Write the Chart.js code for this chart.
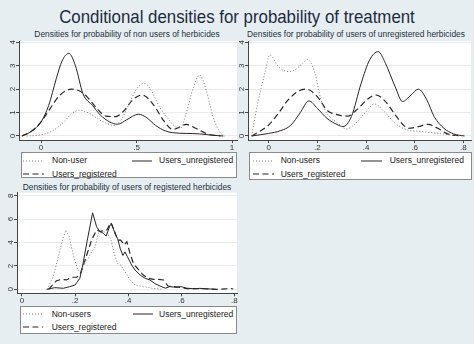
<!DOCTYPE html>
<html>
<head>
<meta charset="utf-8">
<script src="https://cdn.jsdelivr.net/npm/chart.js@4/dist/chart.umd.min.js"></script>
<style>
  html, body { margin: 0; padding: 0; }
  body {
    width: 474px; height: 344px; position: relative; overflow: hidden;
    background: #e7eef1; font-family: "Liberation Sans", Arial, sans-serif; color: #222;
  }
  canvas { position: absolute; }
  .title {
    position: absolute; left: 0; width: 474px; top: 7px; text-align: center;
    font-size: 18.5px; line-height: 20px; color: #1c2b3f; white-space: nowrap;
    transform: scaleX(0.91);
  }
  .sub {
    position: absolute; font-size: 8.4px; line-height: 10px; color: #26313d;
    white-space: nowrap; text-align: center; width: 240px;
  }
  .legend { position: absolute; background: #fff; border: 1px solid #8a8a8a; box-sizing: border-box; }
  .lg-txt { position: absolute; font-size: 8.5px; line-height: 10px; white-space: nowrap; color: #222; }
  svg.lg { position: absolute; overflow: visible; }
</style>
</head>
<body>
<div class="title">Conditional densities for probability of treatment</div>
<div class="sub" style="left:7px; top:29.4px;">Densities for probability of non users of herbicides</div>
<div class="sub" style="left:236px; top:29.4px;">Densities for probability of users of unregistered herbicides</div>
<div class="sub" style="left:7px; top:182.1px;">Densities for probability of users of registered herbicides</div>

<canvas id="c1" width="240" height="112" style="left:0px; top:40px;"></canvas>
<canvas id="c2" width="245" height="112" style="left:229px; top:40px;"></canvas>
<canvas id="c3" width="240" height="114" style="left:0px; top:191px;"></canvas>

<div id="legends"></div>

<script>
// panel 1: non users of herbicides
const p1NonX = [-0.075, 0.0, 0.06, 0.12, 0.16, 0.2, 0.25, 0.3, 0.34, 0.38, 0.42, 0.46, 0.5, 0.54, 0.58, 0.62, 0.66, 0.7, 0.73, 0.76, 0.795, 0.83, 0.865, 0.9, 0.935, 0.96];
const p1NonY = [0, 0.05, 0.22, 0.6, 0.95, 1.1, 0.98, 0.72, 0.55, 0.45, 0.7, 1.35, 2.0, 2.25, 1.9, 1.25, 0.8, 0.42, 0.33, 0.97, 2.0, 2.6, 1.95, 0.83, 0.18, 0];
const p1UnregX = [-0.1, -0.05, 0.0, 0.04, 0.08, 0.11, 0.146, 0.18, 0.22, 0.27, 0.31, 0.36, 0.4, 0.45, 0.51, 0.55, 0.6, 0.65, 0.69, 0.76, 0.83, 0.9, 0.955];
const p1UnregY = [0, 0.2, 0.6, 1.3, 2.45, 3.2, 3.53, 3.0, 1.8, 1.3, 0.9, 0.6, 0.5, 0.7, 0.93, 0.8, 0.45, 0.22, 0.14, 0.11, 0.09, 0.03, 0];
const p1RegX = [-0.1, -0.05, 0.0, 0.05, 0.1, 0.16, 0.2, 0.24, 0.29, 0.34, 0.39, 0.43, 0.48, 0.53, 0.59, 0.64, 0.69, 0.73, 0.76, 0.81, 0.87, 0.94];
const p1RegY = [0, 0.2, 0.6, 1.2, 1.75, 2.0, 1.93, 1.68, 1.2, 0.85, 0.83, 1.04, 1.54, 1.75, 1.32, 0.68, 0.28, 0.4, 0.5, 0.33, 0.09, 0];

// panel 2: users of unregistered herbicides
const p2NonX = [-0.07, -0.045, -0.016, 0.005, 0.04, 0.08, 0.107, 0.14, 0.16, 0.19, 0.215, 0.24, 0.285, 0.32, 0.35, 0.395, 0.435, 0.475, 0.52, 0.57, 0.63, 0.695, 0.76, 0.8];
const p2NonY = [0, 1.4, 2.68, 3.46, 2.96, 2.75, 2.82, 3.1, 3.27, 2.68, 1.54, 0.97, 0.54, 0.3, 0.47, 0.97, 1.37, 1.04, 0.54, 0.26, 0.19, 0.11, 0.03, 0];
const p2UnregX = [-0.07, 0.0, 0.05, 0.09, 0.13, 0.165, 0.2, 0.24, 0.285, 0.305, 0.34, 0.38, 0.415, 0.45, 0.48, 0.52, 0.55, 0.585, 0.615, 0.65, 0.68, 0.72, 0.76, 0.805];
const p2UnregY = [0, 0.11, 0.23, 0.45, 1.0, 1.5, 1.18, 0.75, 0.47, 0.4, 0.83, 2.25, 3.25, 3.6, 3.1, 2.1, 1.47, 1.75, 2.0, 1.54, 0.83, 0.33, 0.09, 0];
const p2RegX = [-0.07, 0.0, 0.04, 0.08, 0.12, 0.155, 0.2, 0.24, 0.285, 0.325, 0.36, 0.41, 0.44, 0.48, 0.52, 0.56, 0.575, 0.615, 0.655, 0.695, 0.735, 0.79];
const p2RegY = [0, 0.47, 0.97, 1.54, 1.9, 2.0, 1.68, 1.1, 0.9, 0.85, 1.1, 1.6, 1.75, 1.47, 0.9, 0.4, 0.33, 0.4, 0.5, 0.33, 0.09, 0];

// panel 3: users of registered herbicides
const p3NonX = [0.095, 0.118, 0.137, 0.156, 0.166, 0.178, 0.193, 0.21, 0.221, 0.237, 0.25, 0.262, 0.275, 0.288, 0.306, 0.32, 0.334, 0.347, 0.36, 0.372, 0.388, 0.407, 0.426, 0.457, 0.495, 0.533];
const p3NonY = [0, 1.1, 2.8, 4.5, 5.07, 4.5, 2.94, 1.66, 1.52, 2.37, 2.65, 3.22, 3.6, 4.8, 4.93, 4.8, 4.36, 3.07, 2.2, 2.08, 1.5, 0.8, 0.37, 0.23, 0.08, 0];
const p3UnregX = [0.093, 0.124, 0.156, 0.18, 0.2, 0.218, 0.23, 0.246, 0.266, 0.281, 0.294, 0.306, 0.317, 0.332, 0.338, 0.35, 0.36, 0.37, 0.38, 0.388, 0.397, 0.413, 0.426, 0.445, 0.464, 0.482, 0.5, 0.52, 0.54, 0.557, 0.583, 0.6, 0.62, 0.646, 0.67, 0.71, 0.73];
const p3UnregY = [0, 0.14, 0.09, 0.23, 0.37, 0.94, 2.2, 4.2, 6.54, 5.35, 4.92, 4.8, 4.55, 5.5, 5.6, 4.8, 4.35, 3.5, 2.9, 3.2, 2.8, 2.08, 1.65, 1.22, 0.94, 0.8, 0.5, 0.28, 0.1, 0.23, 0.17, 0.23, 0.1, 0.05, 0.08, 0.03, 0];
const p3RegX = [0.1, 0.13, 0.149, 0.168, 0.187, 0.206, 0.218, 0.23, 0.246, 0.262, 0.281, 0.296, 0.309, 0.32, 0.334, 0.347, 0.36, 0.372, 0.385, 0.395, 0.407, 0.42, 0.438, 0.457, 0.476, 0.495, 0.514, 0.533, 0.55, 0.57, 0.595, 0.62, 0.67, 0.73, 0.765, 0.784, 0.796];
const p3RegY = [0, 0.74, 0.85, 0.8, 1.03, 1.03, 1.23, 1.94, 3.08, 4.2, 5.07, 4.93, 5.07, 5.07, 5.7, 5.07, 4.2, 4.2, 3.8, 4.07, 3.07, 2.2, 1.7, 1.22, 0.94, 0.85, 0.85, 0.8, 0.28, 0.23, 0.17, 0.06, 0.06, 0.0, 0.03, 0.08, 0.03];

// tick labels
const xTicks12 = [0, 0.5, 1];
const xTicks2 = [0, 0.2, 0.4, 0.6, 0.8];
const xTicks3 = [0, 0.2, 0.4, 0.6, 0.8];
const yTicks12 = [0, 1, 2, 3, 4];
const yTicks3 = [0, 2, 4, 6, 8];

const legend12 = ["Non-user", "Users_unregistered", "Users_registered"];
const legend2 = ["Non-users", "Users_unregistered", "Users_registered"];
const legend3 = ["Non-users", "Users_unregistered", "Users_registered"];

const FONT = '"Liberation Sans", Arial, sans-serif';
const fmt = v => String(v).replace(/^0\./, ".");
const pts = (xs, ys) => xs.map((x, i) => ({ x: x, y: ys[i] }));

const styles = [
  { borderColor: "#7a7a7a", borderWidth: 1, borderDash: [1, 2] },
  { borderColor: "#262626", borderWidth: 1, borderDash: [] },
  { borderColor: "#262626", borderWidth: 1.2, borderDash: [6, 3.5] }
];

const plotBg = {
  id: "plotBg",
  beforeDraw(chart) {
    const a = chart.chartArea, ctx = chart.ctx;
    ctx.save();
    ctx.fillStyle = "#fff";
    ctx.fillRect(a.left, a.top, a.right - a.left, a.bottom - a.top);
    ctx.restore();
  }
};

// stata style vertical y labels
const yLabels = {
  id: "yLabels",
  afterDraw(chart) {
    const s = chart.scales.y, ctx = chart.ctx;
    ctx.save();
    ctx.font = "8px " + FONT;
    ctx.fillStyle = "#333";
    ctx.textAlign = "center";
    ctx.textBaseline = "alphabetic";
    s.ticks.forEach(t => {
      ctx.save();
      ctx.translate(s.right - 4.5, s.getPixelForValue(t.value));
      ctx.rotate(-Math.PI / 2);
      ctx.fillText(fmt(t.value), 0, 0);
      ctx.restore();
    });
    ctx.restore();
  }
};

function makeChart(id, series, cfg) {
  return new Chart(document.getElementById(id), {
    type: "line",
    data: {
      datasets: series.map((s, i) => Object.assign({
        data: pts(s[0], s[1]),
        pointRadius: 0,
        fill: false,
        tension: cfg.tension,
        cubicInterpolationMode: cfg.tension ? "monotone" : "default"
      }, styles[i]))
    },
    options: {
      responsive: false,
      animation: false,
      layout: { padding: cfg.padding },
      plugins: { legend: { display: false }, tooltip: { enabled: false } },
      scales: {
        x: {
          type: "linear", min: cfg.xMin, max: cfg.xMax,
          afterBuildTicks: s => { s.ticks = cfg.xTicks.map(v => ({ value: v })); },
          afterFit: s => { s.height = cfg.xAxisH; },
          ticks: { callback: v => fmt(v), font: { family: FONT, size: 8 }, color: "#333", padding: 0, maxRotation: 0 },
          grid: { drawOnChartArea: false, drawTicks: true, tickLength: 3, tickColor: "#444" },
          border: { display: true, color: "#444", width: 1 }
        },
        y: {
          type: "linear", min: cfg.yMin, max: cfg.yMax,
          afterBuildTicks: s => { s.ticks = cfg.yTicks.map(v => ({ value: v })); },
          afterFit: s => { s.width = cfg.yAxisW; },
          ticks: { display: false },
          grid: { color: "#e9ecee", lineWidth: 1, tickLength: 3, tickColor: "#444" },
          border: { display: true, color: "#444", width: 1 }
        }
      }
    },
    plugins: [plotBg, yLabels]
  });
}

makeChart("c1", [[p1NonX, p1NonY], [p1UnregX, p1UnregY], [p1RegX, p1RegY]], {
  xMin: -0.1152, xMax: 1.026, yMin: -0.171, yMax: 4.055,
  xTicks: xTicks12, yTicks: yTicks12, yAxisW: 19, xAxisH: 12,
  padding: { top: 1, right: 3, left: 0, bottom: 0 }, tension: 0.4
});
makeChart("c2", [[p2NonX, p2NonY], [p2UnregX, p2UnregY], [p2RegX, p2RegY]], {
  xMin: -0.085, xMax: 0.8315, yMin: -0.171, yMax: 4.055,
  xTicks: xTicks2, yTicks: yTicks12, yAxisW: 19, xAxisH: 12,
  padding: { top: 1, right: 3, left: 0, bottom: 0 }, tension: 0.4
});
makeChart("c3", [[p3NonX, p3NonY], [p3UnregX, p3UnregY], [p3RegX, p3RegY]], {
  xMin: -0.0188, xMax: 0.81, yMin: -0.34, yMax: 8.26,
  xTicks: xTicks3, yTicks: yTicks3, yAxisW: 17, xAxisH: 11.7,
  padding: { top: 1.7, right: 3, left: 0, bottom: 0 }, tension: 0
});

// legend boxes (html)
function addLegend(box, labels, items) {
  const wrap = document.getElementById("legends");
  const b = document.createElement("div");
  b.className = "legend";
  Object.assign(b.style, { left: box[0] + "px", top: box[1] + "px", width: (box[2] - box[0]) + "px", height: (box[3] - box[1]) + "px" });
  wrap.appendChild(b);
  items.forEach((it, i) => {
    const st = styles[i];
    const svg = document.createElementNS("http://www.w3.org/2000/svg", "svg");
    svg.setAttribute("class", "lg");
    svg.setAttribute("width", it.x1 - it.x0);
    svg.setAttribute("height", 4);
    svg.style.left = it.x0 + "px";
    svg.style.top = (it.y - 2) + "px";
    const ln = document.createElementNS("http://www.w3.org/2000/svg", "line");
    ln.setAttribute("x1", 0); ln.setAttribute("x2", it.x1 - it.x0);
    ln.setAttribute("y1", 2); ln.setAttribute("y2", 2);
    ln.setAttribute("stroke", st.borderColor);
    ln.setAttribute("stroke-width", st.borderWidth);
    if (st.borderDash.length) ln.setAttribute("stroke-dasharray", st.borderDash.join(","));
    svg.appendChild(ln);
    wrap.appendChild(svg);
    const t = document.createElement("div");
    t.className = "lg-txt";
    t.textContent = labels[i];
    t.style.left = it.tx + "px";
    t.style.top = (it.y - 5.5) + "px";
    wrap.appendChild(t);
  });
}

addLegend([21, 152, 237, 178], legend12, [
  { x0: 23, x1: 44, y: 160.7, tx: 52 },
  { x0: 132, x1: 152, y: 160.7, tx: 159 },
  { x0: 23, x1: 44, y: 174, tx: 52 }
]);
addLegend([249, 152, 472, 180], legend2, [
  { x0: 253, x1: 274, y: 160.7, tx: 280.7 },
  { x0: 361, x1: 382, y: 160.7, tx: 389.7 },
  { x0: 253, x1: 274, y: 174, tx: 280.7 }
]);
addLegend([20, 306, 237, 334], legend3, [
  { x0: 23, x1: 43, y: 314, tx: 51.7 },
  { x0: 133, x1: 153, y: 314, tx: 159 },
  { x0: 23, x1: 43, y: 327, tx: 51.7 }
]);
</script>
</body>
</html>
